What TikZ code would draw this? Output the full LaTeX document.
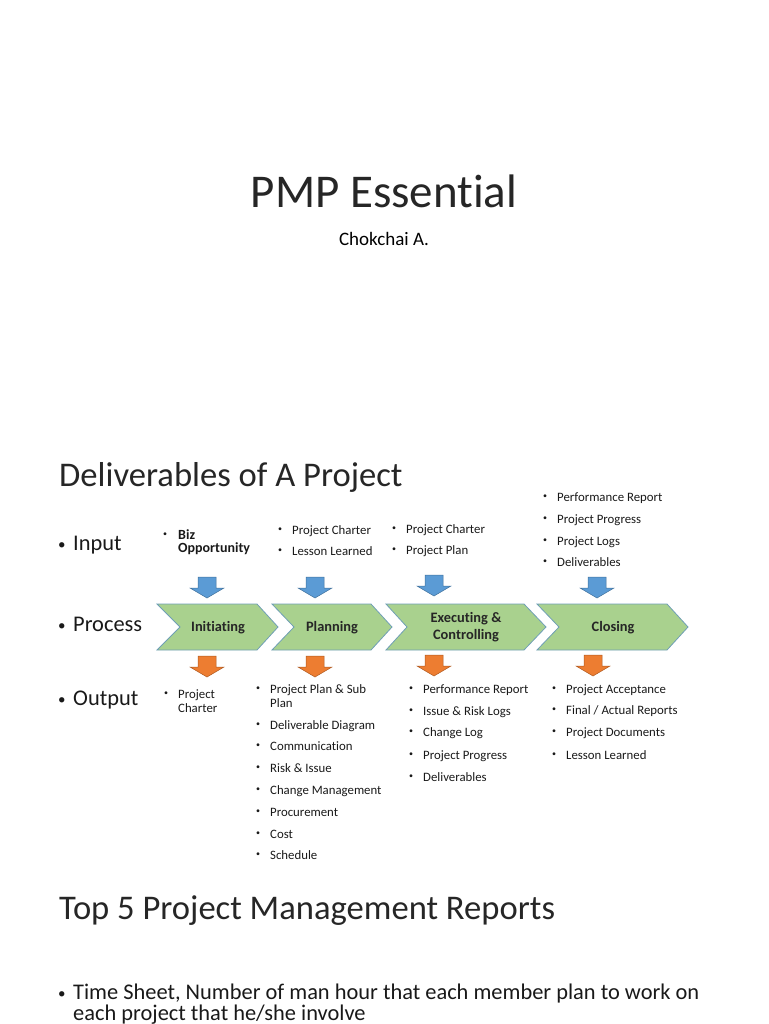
\documentclass[tikz,border=0pt]{standalone}
\usepackage{fontspec}
\setmainfont[Ligatures=NoCommon]{Carlito}
\definecolor{chevfill}{HTML}{A9D18E}
\definecolor{chevline}{HTML}{6F9FB5}
\definecolor{inblue}{HTML}{5B9BD5}
\definecolor{outorange}{HTML}{ED7D31}
\definecolor{inkline}{HTML}{41719C}
\definecolor{outline}{HTML}{AE5A21}
\newcommand{\slidedot}{\makebox[15pt][l]{\fontsize{15}{15}\selectfont\raisebox{1.5pt}{•}}}
\tikzset{
  slidetitle/.style={anchor=west,inner sep=0pt,font=\fontsize{34.6}{38}\selectfont,text=black!85},
  slidebullet/.style={anchor=west,inner sep=0pt,font=\fontsize{22.4}{24}\selectfont,text=black!90,text height=16pt,text depth=5pt},
  smallitem/.style={anchor=west,inner sep=0pt,font=\fontsize{12.8}{13.5}\selectfont,align=left,text=black!90},
  smallline/.style={smallitem,text height=9pt,text depth=3pt,yshift=-1.6pt},
  smalldot/.style={inner sep=0pt,font=\fontsize{8}{9}\selectfont,text=black!90},
  chevron/.style={draw=chevline,fill=chevfill,line width=.8pt,line join=miter},
  chevlabel/.style={inner sep=0pt,font=\fontsize{14.4}{17}\selectfont\bfseries,align=center,text=black!85},
  inarrow/.style={draw=inkline,fill=inblue,line width=.5pt},
  outarrow/.style={draw=outline,fill=outorange,line width=.5pt},
}
\begin{document}
\begin{tikzpicture}[x=1pt,y=-1pt]
\useasboundingbox (0,0) rectangle (768,1024);
% titles
\node[inner sep=0pt,font=\fontsize{47}{50}\selectfont,text=black!85] (title) at (384,191) {PMP Essential};
\node[inner sep=0pt,font=\fontsize{19}{21}\selectfont] (author) at (384,239) {Chokchai A.};
\node[slidetitle] (deliv) at (59,477) {Deliverables of A Project};
\node[slidetitle] (topfive) at (59,911) {Top 5 Project Management Reports};
% left column
\node[slidebullet] (input) at (58,545) {\slidedot Input};
\node[slidebullet] (process) at (58,626) {\slidedot Process};
\node[slidebullet] (output) at (58,700) {\slidedot Output};
\node[slidebullet,align=left,anchor=north west,font=\fontsize{22.4}{20.5}\selectfont,text height=,text depth=] (timesheet) at (58,984) {\slidedot Time Sheet, Number of man hour that each member plan to work on\\
\hspace{15pt}each project that he/she involve};
% chevrons
\draw[chevron] (157,604) -- (257,604) -- (278,627) -- (257,650) -- (157,650) -- (180,627) -- cycle;
\draw[chevron] (272,604) -- (371,604) -- (392,627) -- (371,650) -- (272,650) -- (294,627) -- cycle;
\draw[chevron] (386,604) -- (524,604) -- (546,627) -- (524,650) -- (386,650) -- (407,627) -- cycle;
\draw[chevron] (537,604) -- (667,604) -- (688,627) -- (667,650) -- (537,650) -- (559,627) -- cycle;
\node[chevlabel] (initiating) at (218,628) {Initiating};
\node[chevlabel] (planning) at (332,628) {Planning};
\node[chevlabel] (executing) at (466,627) {Executing \&\\Controlling};
\node[chevlabel] (closing) at (613,628) {Closing};
% arrows
\foreach \cx/\ty in {207/577,315/577,434/575,597/577}
  \draw[inarrow] (\cx-9,\ty) -- (\cx+9,\ty) -- (\cx+9,\ty+11) -- (\cx+17,\ty+11) -- (\cx,\ty+21) -- (\cx-17,\ty+11) -- (\cx-9,\ty+11) -- cycle;
\foreach \cx/\ty in {207/656,315/656,434/655,593/655}
  \draw[outarrow] (\cx-9,\ty) -- (\cx+9,\ty) -- (\cx+9,\ty+11) -- (\cx+17,\ty+11) -- (\cx,\ty+21) -- (\cx-17,\ty+11) -- (\cx-9,\ty+11) -- cycle;
% inputs
\node[smalldot] at (165,535) {•};
\node[smallitem,font=\fontsize{14}{13.5}\selectfont\bfseries] (biz) at (178,542) {Biz\\Opportunity};
\foreach \ty/\txt in {530/Project Charter,551/Lesson Learned}{
  \node[smalldot] at (280,\ty) {•};
  \node[smallline] at (292,\ty) {\txt};
}
\foreach \ty/\txt in {529/Project Charter,550/Project Plan}{
  \node[smalldot] at (394,\ty) {•};
  \node[smallline] at (406,\ty) {\txt};
}
\foreach \ty/\txt in {497/Performance Report,519/Project Progress,541/Project Logs,562/Deliverables}{
  \node[smalldot] at (545,\ty) {•};
  \node[smallline] at (557,\ty) {\txt};
}
% outputs
\node[smalldot] at (166,694) {•};
\node[smallitem] (charter) at (178,701) {Project\\Charter};
\node[smalldot] at (258,689) {•};
\node[smallitem] (subplan) at (270,696) {Project Plan \& Sub\\Plan};
\foreach \ty/\txt in {725/Deliverable Diagram,746/Communication,768/Risk \& Issue,790/Change Management,812/Procurement,834/Cost,855/Schedule}{
  \node[smalldot] at (258,\ty) {•};
  \node[smallline] at (270,\ty) {\txt};
}
\foreach \ty/\txt in {689/Performance Report,711/Issue \& Risk Logs,732/Change Log,755/Project Progress,777/Deliverables}{
  \node[smalldot] at (411,\ty) {•};
  \node[smallline] at (423,\ty) {\txt};
}
\foreach \ty/\txt in {689/Project Acceptance,710/{Final / Actual Reports},732/Project Documents,755/Lesson Learned}{
  \node[smalldot] at (554,\ty) {•};
  \node[smallline] at (566,\ty) {\txt};
}
\end{tikzpicture}
\end{document}
